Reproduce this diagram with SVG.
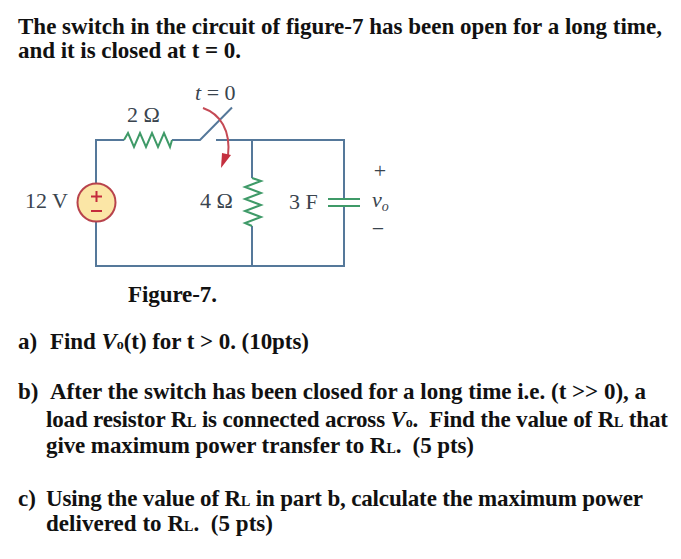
<svg xmlns="http://www.w3.org/2000/svg" width="681" height="559" viewBox="0 0 681 559">
<style>
.q{font-family:"Liberation Serif","Times New Roman",serif;font-weight:700;font-size:23px;fill:#111;white-space:pre}
.c{font-family:"Liberation Serif","Times New Roman",serif;font-size:22px;fill:#3a444e}
.s{font-size:14px}
.w{fill:none;stroke:#55789a;stroke-width:2}
.r{fill:none;stroke:#3f9a68;stroke-width:2}
</style>
<rect width="681" height="559" fill="#fff"/>
<g id="question-text">
<text class="q" x="18" y="34" textLength="644" lengthAdjust="spacing">The switch in the circuit of figure-7 has been open for a long time,</text>
<text class="q" x="18" y="58" textLength="223" lengthAdjust="spacing">and it is closed at t = 0.</text>
<text class="q" x="128" y="302" textLength="89" lengthAdjust="spacing">Figure-7.</text>
<text class="q" x="18" y="349">a)</text>
<text class="q" x="50" y="349" textLength="259" lengthAdjust="spacing">Find <tspan font-style="italic">V</tspan><tspan class="s">o</tspan>(t) for t &gt; 0. (10pts)</text>
<text class="q" x="18" y="399">b)</text>
<text class="q" x="50" y="399" textLength="596" lengthAdjust="spacing">After the switch has been closed for a long time i.e. (t &gt;&gt; 0), a</text>
<text class="q" x="46" y="427" textLength="622" lengthAdjust="spacing">load resistor R<tspan class="s">L</tspan> is connected across <tspan font-style="italic">V</tspan><tspan class="s">o</tspan>.  Find the value of R<tspan class="s">L</tspan> that</text>
<text class="q" x="46" y="453" textLength="428" lengthAdjust="spacing">give maximum power transfer to R<tspan class="s">L</tspan>.  (5 pts)</text>
<text class="q" x="18" y="506">c)</text>
<text class="q" x="46" y="506" textLength="597" lengthAdjust="spacing">Using the value of R<tspan class="s">L</tspan> in part b, calculate the maximum power</text>
<text class="q" x="46" y="531" textLength="227" lengthAdjust="spacing">delivered to R<tspan class="s">L</tspan>.  (5 pts)</text>
</g>
<g id="connectors">
<path class="w" d="M96 183V140H124"/>
<path class="w" d="M172 140H200L232 107.500"/>
<path class="w" d="M216 140H344V199M344 206V266H96V222"/>
<path class="w" d="M252 140V178M252 226V266"/>
</g>
<g id="source-12v">
<circle cx="96.500" cy="202.500" r="19" fill="#fbe6a6" stroke="#b8434c" stroke-width="2"/>
<path d="M96.500 191V202M91 196.500H102M91 211H102" fill="none" stroke="#c42b3c" stroke-width="2"/>
<text class="c" x="25" y="208">12 V</text>
</g>
<g id="resistor-2">
<path class="r" d="M124 140L128 133L134 147L140 133L146 147L152 133L158 147L164 133L170 147L172 140"/>
<text class="c" x="127" y="122">2 Ω</text>
</g>
<g id="switch">
<path d="M203 108C220 114 231 130 228 156" fill="none" stroke="#c54a55" stroke-width="2"/>
<path d="M221 168L222 153L231 155Z" fill="#c4303f"/>
<text class="c" x="195" y="100"><tspan font-style="italic">t</tspan> = 0</text>
</g>
<g id="resistor-4">
<path class="r" d="M252 178L261 181L245 187L261 193L245 199L261 205L245 211L261 217L245 223L252 226"/>
<text class="c" x="200" y="208">4 Ω</text>
</g>
<g id="capacitor-3f">
<path class="r" d="M328 199H360M328 206H360"/>
<text class="c" x="289" y="209">3 F</text>
</g>
<g id="vo-label">
<text class="c" x="380" y="178" text-anchor="middle">+</text>
<text class="c" x="372" y="207" font-style="italic" font-size="20">v<tspan font-size="14" dy="4">o</tspan></text>
<text class="c" x="378" y="236" text-anchor="middle">−</text>
</g>
</svg>
